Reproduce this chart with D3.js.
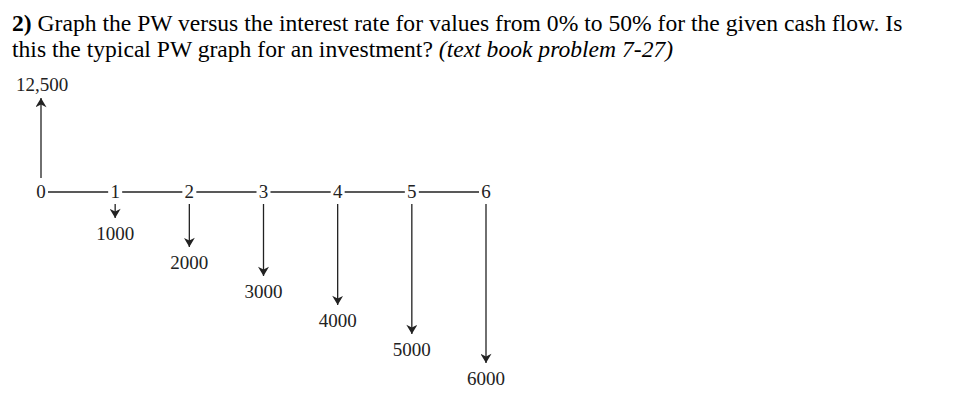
<!DOCTYPE html><html><head><meta charset="utf-8"><script src="https://cdn.jsdelivr.net/npm/d3@7"></script>
<style>body{margin:0;background:#fff}text{font-family:'Liberation Serif','Times New Roman',serif}</style></head><body><svg id="c" width="962" height="420"></svg>
<script>
const periods=[0,1,2,3,4,5,6];
const receipts=[12500];
const payments=[1000,2000,3000,4000,5000,6000];
const svg=d3.select("#c");
const t1=svg.append("text").attr("x",12).attr("y",31).style("font-size","23.6px").attr("fill","#000");
t1.append("tspan").attr("font-weight","bold").text("2)");
t1.append("tspan").text(" Graph the PW versus the interest rate for values from 0% to 50% for the given cash flow. Is");
const t2=svg.append("text").attr("x",12).attr("y",57).style("font-size","23.6px").attr("fill","#000");
t2.append("tspan").text("this the typical PW graph for an investment? ");
t2.append("tspan").attr("font-style","italic").text("(text book problem 7-27)");
const defs=svg.append("defs");
defs.append("marker").attr("id","ah").attr("viewBox","0 0 10 12").attr("refX",10).attr("refY",6)
 .attr("markerWidth",11).attr("markerHeight",11).attr("markerUnits","userSpaceOnUse").attr("orient","auto")
 .append("path").attr("d","M0,0L10,6L0,12L3,6Z").attr("fill","#222");
const x=d3.scaleLinear().domain([0,6]).range([41,486]);
const axisY=192;
const yDown=d3.scaleLinear().domain([0,6000]).range([189,363]);
const yUp=d3.scaleLinear().domain([0,12500]).range([178,98]);
const g=svg.append("g").attr("fill","#222");
for(let i=0;i<6;i++){g.append("line").attr("x1",x(periods[i])+7).attr("x2",x(periods[i+1])-7).attr("y1",axisY).attr("y2",axisY).attr("stroke","#222").attr("stroke-width",1.3);}
periods.forEach(p=>g.append("text").attr("x",x(p)).attr("y",axisY+6).attr("text-anchor","middle").style("font-size","19px").text(p));
g.append("line").attr("x1",x(0)).attr("x2",x(0)).attr("y1",yUp(0)).attr("y2",yUp(receipts[0])).attr("stroke","#222").attr("stroke-width",1.3).attr("marker-end","url(#ah)");
g.append("text").attr("x",x(0)+1).attr("y",yUp(receipts[0])-7).attr("text-anchor","middle").style("font-size","19px").text("12,500");
payments.forEach((v,i)=>{
 const px=x(periods[i+1]);
 g.append("line").attr("x1",px).attr("x2",px).attr("y1",204).attr("y2",yDown(v)).attr("stroke","#222").attr("stroke-width",1.3).attr("marker-end","url(#ah)");
 g.append("text").attr("x",px).attr("y",yDown(v)+22).attr("text-anchor","middle").style("font-size","19px").text(v);
});
</script></body></html>
